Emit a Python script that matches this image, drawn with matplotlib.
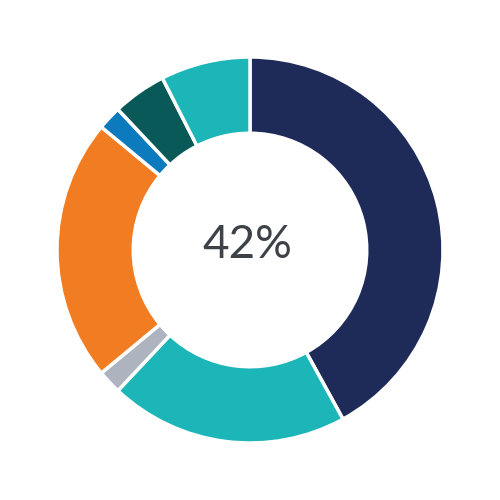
import matplotlib
matplotlib.use("Agg")
import matplotlib.pyplot as plt

labels = ["A", "B", "C", "D", "E", "F", "G"]
values = [42, 20, 2, 22, 2, 4.5, 7.5]
colors = ["#1e2b59", "#1cb5b8", "#adb4bf", "#f27c21", "#0b7bbd", "#085958", "#1cb5b8"]
center_text = "42%"

fig = plt.figure(figsize=(5, 5), dpi=100)
ax = fig.add_axes([0, 0, 1, 1])
ax.pie(values, colors=colors, startangle=90, counterclock=False,
       radius=0.772, wedgeprops=dict(width=0.305, edgecolor="white", linewidth=2.5))
ax.set_xlim(-1, 1)
ax.set_ylim(-1, 1)
ax.set_aspect("equal")
ax.axis("off")
ax.text(-0.01, 0.02, center_text, ha="center", va="center", fontsize=33, color="#3c4248",
        family="Lato")
fig.savefig("out.png", dpi=100, facecolor="white")
